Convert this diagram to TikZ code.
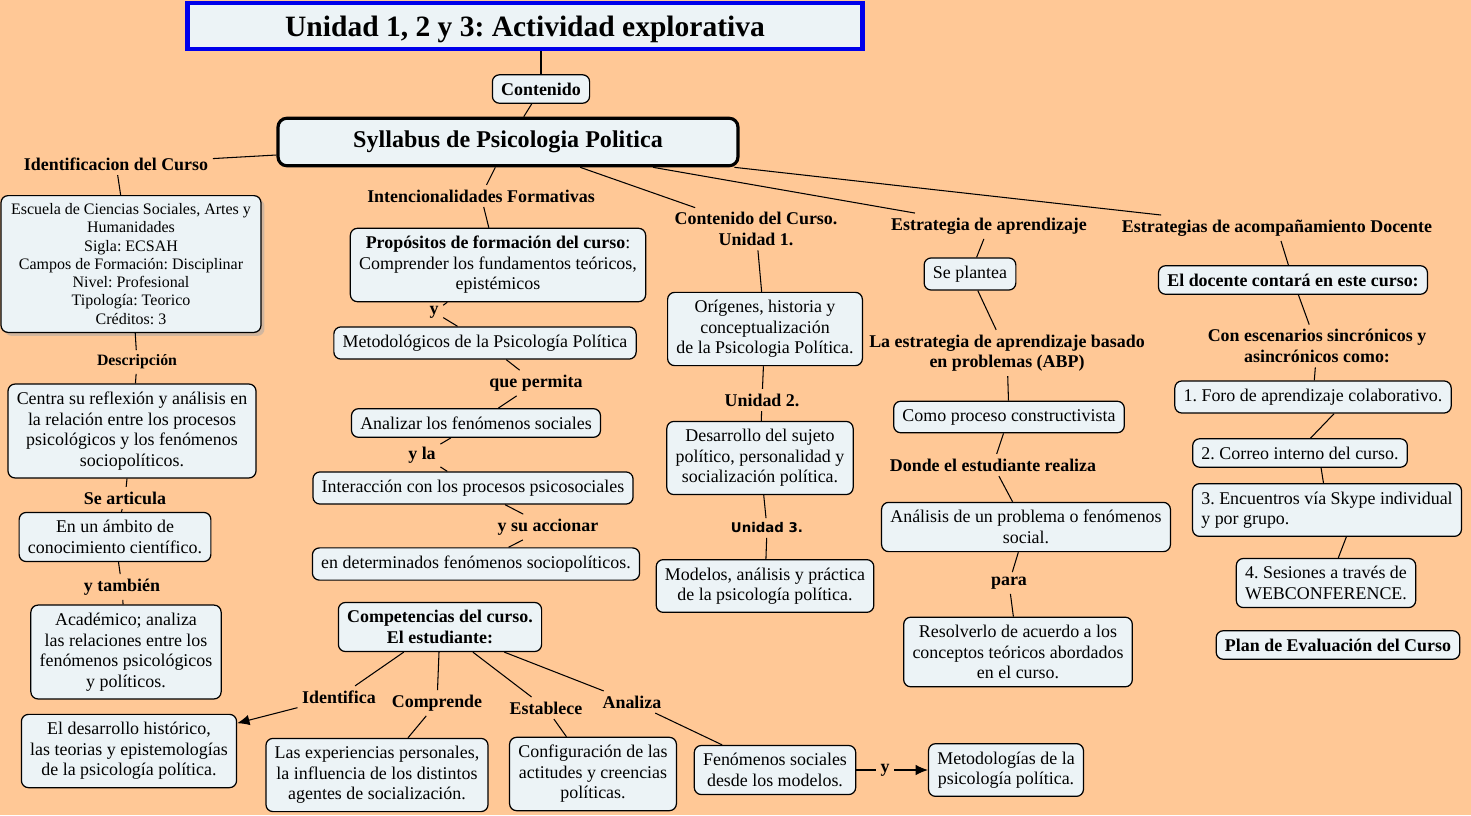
\documentclass[tikz,border=0pt]{standalone}
\usepackage{fontspec}
\setmainfont{Liberation Serif}
\newfontfamily\unisans{DejaVu Sans}
\usetikzlibrary{arrows.meta,shadows}
\definecolor{bgpeach}{RGB}{255,200,150}
\definecolor{boxfill}{RGB}{236,243,246}
\definecolor{titleblue}{RGB}{0,0,235}

\begin{document}
\frenchspacing
\begin{tikzpicture}[x=0.02cm, y=-0.02cm]
  \tikzset{concept/.style={draw, rounded corners=4pt, fill=boxfill, line width=0.7pt, align=center,
             inner xsep=5pt, inner ysep=4.5pt, font=\fontsize{10.2}{11.7}\selectfont},
           boldconcept/.style={concept, font=\fontsize{10.2}{11.7}\selectfont\bfseries},
           link/.style={font=\fontsize{10.2}{11.7}\selectfont\bfseries, align=center, inner sep=2.5pt},
           wire/.style={line width=0.6pt}}
  \path[use as bounding box, fill=bgpeach] (0,0) rectangle (1471,815);

  \node[concept, line width=2.8pt, draw=titleblue, rounded corners=0pt, minimum width=13.5cm, minimum height=0.92cm,
        text depth=0pt, font=\fontsize{16.8}{19}\selectfont\bfseries] (title) at (525,26) {Unidad 1, 2 y 3: Actividad explorativa};
  \node[boldconcept] (cont) at (541,89) {Contenido};
  \node[concept, line width=1.8pt, rounded corners=5pt, minimum width=9.2cm, minimum height=0.95cm,
        font=\fontsize{13.7}{16}\selectfont\bfseries] (syl) at (508,142) {Syllabus de Psicologia Politica};

  \node[link] (ident) at (116,164) {Identificacion del Curso};
  \node[link] (intenc) at (481,196) {Intencionalidades Formativas};
  \node[link] (contcur) at (756,229) {Contenido del Curso.\\Unidad 1.};
  \node[link] (estr) at (989,226) {Estrategia de aprendizaje};
  \node[link] (acomp) at (1277,228) {Estrategias de acompañamiento Docente};

  \node[concept, font=\fontsize{9.1}{10.4}\selectfont, minimum width=5.2cm,
        drop shadow={shadow xshift=2pt, shadow yshift=-2pt, fill=gray!70, opacity=0.5}] (escuela) at (131,264)
    {Escuela de Ciencias Sociales, Artes y\\Humanidades\\Sigla: ECSAH\\Campos de Formación: Disciplinar\\Nivel: Profesional\\Tipología: Teorico\\Créditos: 3};
  \node[link, font=\fontsize{9}{11}\selectfont\bfseries] (descr) at (137,362) {Descripción};
  \node[concept] (centra) at (132,431) {Centra su reflexión y análisis en\\la relación entre los procesos\\psicológicos y los fenómenos\\sociopolíticos.};
  \node[link] (artic) at (125,498) {Se articula};
  \node[concept] (ambito) at (115,537) {En un ámbito de\\conocimiento científico.};
  \node[link] (tamb) at (122,587) {y también};
  \node[concept] (academ) at (126,652) {Académico; analiza\\las relaciones entre los\\fenómenos psicológicos\\y políticos.};

  \node[concept] (prop) at (498,265) {\textbf{Propósitos de formación del curso}:\\Comprender los fundamentos teóricos,\\epistémicos};
  \node[link] (yprop) at (434,312) {y};
  \node[concept] (metod) at (485,343) {Metodológicos de la Psicología Política};
  \node[link] (quep) at (536,383) {que permita};
  \node[concept] (analiz) at (476,423) {Analizar los fenómenos sociales};
  \node[link] (yla) at (422,455) {y la};
  \node[concept] (interac) at (473,488) {Interacción con los procesos psicosociales};
  \node[link] (ysu) at (548,527) {y su accionar};
  \node[concept] (determ) at (476,564) {en determinados fenómenos sociopolíticos.};

  \node[boldconcept] (compet) at (440,627) {Competencias del curso.\\El estudiante:};
  \node[link] (identif) at (339,697) {Identifica};
  \node[link] (compr) at (437,703) {Comprende};
  \node[link] (establ) at (546,708) {Establece};
  \node[link] (analiza) at (632,702) {Analiza};
  \node[concept] (desarr) at (129,751) {El desarrollo histórico,\\las teorias y epistemologías\\de la psicología política.};
  \node[concept] (experi) at (377,775) {Las experiencias personales,\\la influencia de los distintos\\agentes de socialización.};
  \node[concept] (config) at (593,774) {Configuración de las\\actitudes y creencias\\políticas.};
  \node[concept] (fenom) at (775,770) {Fenómenos sociales\\desde los modelos.};
  \node[link] (yfen) at (885,770) {y};
  \node[concept] (metpsi) at (1006,770) {Metodologías de la\\psicología política.};

  \node[concept] (orig) at (765,329) {Orígenes, historia y\\conceptualización\\de la Psicologia Política.};
  \node[link] (uni2) at (762,400) {Unidad 2.};
  \node[concept] (desuj) at (760,458) {Desarrollo del sujeto\\político, personalidad y\\socialización política.};
  \node[link, font=\unisans\fontsize{7.6}{9}\selectfont\bfseries] (uni3) at (767,528) {Unidad 3.};
  \node[concept] (model) at (765,586) {Modelos, análisis y práctica\\de la psicología política.};

  \node[concept] (plantea) at (970,274) {Se plantea};
  \node[link] (abp) at (1007,353) {La estrategia de aprendizaje basado\\en problemas (ABP)};
  \node[concept] (constr) at (1009,417) {Como proceso constructivista};
  \node[link] (donde) at (993,465) {Donde el estudiante realiza};
  \node[concept] (problem) at (1026,527) {Análisis de un problema o fenómenos\\social.};
  \node[link] (para) at (1009,583) {para};
  \node[concept] (resolv) at (1018,652) {Resolverlo de acuerdo a los\\conceptos teóricos abordados\\en el curso.};

  \node[boldconcept] (docente) at (1293,280) {El docente contará en este curso:};
  \node[link] (escen) at (1317,346) {Con escenarios sincrónicos y\\asincrónicos como:};
  \node[concept] (foro) at (1313,397) {1. Foro de aprendizaje colaborativo.};
  \node[concept] (correo) at (1300,453) {2. Correo interno del curso.};
  \node[concept, align=left] (skype) at (1327,510) {3. Encuentros vía Skype individual\\ y por grupo.};
  \node[concept] (sesion) at (1326,583) {4. Sesiones a través de\\WEBCONFERENCE.};
  \node[boldconcept] (plan) at (1338,645) {Plan de Evaluación del Curso};

  \draw[wire] (cont) -- (cont |- title.south);
  \draw[wire] (cont) -- (syl);
  \draw[wire] (syl) -- (ident) -- (escuela) -- (descr) -- (centra) -- (artic) -- (ambito) -- (tamb) -- (academ);
  \draw[wire] (syl) -- (intenc) -- (prop) -- (yprop) -- (metod) -- (quep) -- (analiz) -- (yla) -- (interac) -- (ysu) -- (determ);
  \draw[wire] (syl) -- (contcur) -- (orig) -- (uni2) -- (desuj) -- (uni3) -- (model);
  \draw[wire] (syl) -- (estr) -- (plantea) -- (abp) -- (constr) -- (donde) -- (problem) -- (para) -- (resolv);
  \draw[wire] (syl) -- (acomp) -- (docente) -- (escen) -- (foro);
  \draw[wire] ([xshift=12pt]foro.south) -- ([xshift=6pt]correo.north);
  \draw[wire] ([xshift=12pt]correo.south) -- ([xshift=-2pt]skype.north);
  \draw[wire] ([xshift=11pt]skype.south) -- ([xshift=7pt]sesion.north);
  \draw[wire] (compet) -- (identif);
  \draw[wire, -{Latex[length=7pt, width=6pt]}] (identif) -- (desarr);
  \draw[wire] (compet) -- (compr) -- (experi);
  \draw[wire] (compet) -- (establ) -- (config);
  \draw[wire] (compet) -- (analiza) -- (fenom);
  \draw[wire, -{Latex[length=7pt, width=6pt]}] (fenom) -- (yfen) -- (metpsi);
\end{tikzpicture}
\end{document}
